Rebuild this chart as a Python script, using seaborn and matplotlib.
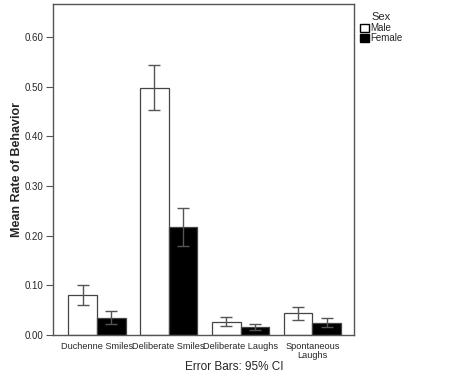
import pandas as pd
import seaborn as sns
import matplotlib.pyplot as plt
from matplotlib.ticker import FormatStrFormatter
from matplotlib.patches import Patch

# ---- data ----
behaviors = ['Duchenne Smiles', 'Deliberate Smiles', 'Deliberate Laughs', 'Spontaneous\nLaughs']
sexes = ['Male', 'Female']
male_mean = [0.081, 0.498, 0.027, 0.044]
female_mean = [0.035, 0.218, 0.017, 0.025]
male_lo = [0.061, 0.453, 0.018, 0.031]
male_hi = [0.101, 0.543, 0.036, 0.057]
female_lo = [0.022, 0.180, 0.011, 0.016]
female_hi = [0.048, 0.256, 0.023, 0.034]

df = pd.DataFrame({
    'behavior': behaviors * 2,
    'sex': ['Male'] * 4 + ['Female'] * 4,
    'rate': male_mean + female_mean,
    'lo': male_lo + female_lo,
    'hi': male_hi + female_hi,
})

sns.set_style("white")
plt.rcParams['font.family'] = ['Liberation Sans', 'DejaVu Sans']

fig = plt.figure(figsize=(4.74, 3.79), dpi=100)
ax = fig.add_axes([0.112, 0.116, 0.635, 0.873])

sns.barplot(data=df, x='behavior', y='rate', hue='sex', hue_order=sexes,
            order=behaviors, palette={'Male': 'white', 'Female': 'black'},
            edgecolor='#444444', linewidth=0.9, width=0.8,
            errorbar=None, legend=False, ax=ax)

# error bars (95% CI)
for container, sex in zip(ax.containers, sexes):
    sub = df[df['sex'] == sex].set_index('behavior').loc[behaviors]
    xs = [p.get_x() + p.get_width() / 2 for p in container.patches]
    ax.errorbar(xs, sub['rate'],
                yerr=[sub['rate'] - sub['lo'], sub['hi'] - sub['rate']],
                fmt='none', ecolor='#555555', elinewidth=1, capsize=4, capthick=1)

ax.set_xlim(-0.61, 3.58)
ax.set_ylim(0, 0.666)
ax.set_yticks([0, 0.1, 0.2, 0.3, 0.4, 0.5, 0.6])
ax.yaxis.set_major_formatter(FormatStrFormatter('%.2f'))
ax.tick_params(axis='y', labelsize=7, length=5, color='#555555', left=True, pad=2)
ax.tick_params(axis='x', labelsize=6.6, length=0, pad=5)
for lbl in ax.get_xticklabels():
    lbl.set_linespacing(0.95)
for s in ax.spines.values():
    s.set_color('#555555')
    s.set_linewidth(1)

ax.set_xlabel('')
ax.set_ylabel('Mean Rate of Behavior', fontsize=9, fontweight='bold')
ax.yaxis.set_label_coords(-0.10, 0.5)
fig.text(0.494, 0.032, 'Error Bars: 95% CI', fontsize=8.5, ha='center', va='center')

# legend outside on the right
handles = [Patch(facecolor='white', edgecolor='black', label='Male'),
           Patch(facecolor='black', edgecolor='black', label='Female')]
fig.legend(handles=handles, title='Sex', loc='upper left',
           bbox_to_anchor=(0.745, 0.985), frameon=False, fontsize=7,
           title_fontsize=8, handlelength=0.9, handleheight=0.9,
           handletextpad=0.2, labelspacing=0.05, borderpad=0.2)

plt.savefig('out.png', dpi=100)
plt.close()
